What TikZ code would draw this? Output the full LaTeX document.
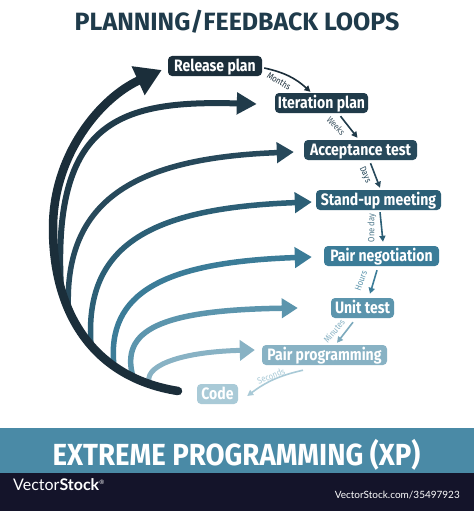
\documentclass[tikz,border=0pt]{standalone}
\usepackage{fontspec}
\setmainfont{Fira Sans}
\newfontfamily\condfont[FakeStretch=0.85]{Fira Sans}
\newfontfamily\titlefont{Fira Sans}
\newfontfamily\bannerfont[FakeStretch=0.905]{Fira Sans}
\newfontfamily\wmfont{Lato}
\usetikzlibrary{arrows.meta,calc}
\definecolor{c1}{HTML}{1B2E3A}
\definecolor{c2}{HTML}{203B4A}
\definecolor{c3}{HTML}{27495B}
\definecolor{c4}{HTML}{2C5F76}
\definecolor{c5}{HTML}{3B7C98}
\definecolor{c6}{HTML}{5C95AD}
\definecolor{c7}{HTML}{88B2C4}
\definecolor{c8}{HTML}{A9CAD7}
\definecolor{titlec}{HTML}{1F3B4B}
\definecolor{band}{HTML}{4A8AA6}
\definecolor{navy}{HTML}{14142A}
\tikzset{
  stage/.style={rounded corners=4pt, text=white, font=\condfont\bfseries\fontsize{16.5}{19}\selectfont,
    minimum height=20pt, inner xsep=1pt, inner ysep=0pt, text height=11.3pt, text depth=0pt},
  link/.style={line width=1.6pt, -{Triangle[length=6pt,width=6pt]}},
  lbl/.style={font=\condfont\fontsize{9}{11}\selectfont, inner sep=0pt},
  loop/.style={line width=5.5pt, -{Triangle[length=17pt,width=20pt]}}
}
\begin{document}
\begin{tikzpicture}[x=1pt,y=-1pt]
\useasboundingbox (0,0) rectangle (474,511);
\fill[white] (0,0) rectangle (474,511);
\fill[band] (0,428) rectangle (474,473);
\fill[navy] (0,473) rectangle (474,511);

\node[anchor=base, text=titlec, font=\titlefont\bfseries\fontsize{25}{28}\selectfont, inner sep=0pt] (title) at (237,31) {PLANNING/FEEDBACK LOOPS};
\node[anchor=base, text=white, font=\bannerfont\bfseries\fontsize{30.5}{34}\selectfont, inner sep=0pt] (banner) at (236.5,465) {EXTREME PROGRAMMING (XP)};
\node[anchor=base west, text=white, font=\wmfont\fontsize{16}{18}\selectfont, inner sep=0pt] (vs) at (13,490) {Vector\textbf{Stock}\raisebox{6pt}{\fontsize{6}{7}\selectfont ®}};
\node[anchor=base east, text=white, font=\wmfont\fontsize{10}{12}\selectfont, inner sep=0pt] (url) at (460,498) {VectorStock.com/35497923};

\node[stage, fill=c1, minimum width=94pt] (rel) at (215,66) {Release plan};
\node[stage, fill=c2, minimum width=93pt] (it) at (321.5,103) {Iteration plan};
\node[stage, fill=c3, minimum width=113pt] (acc) at (360.5,150) {Acceptance test};
\node[stage, fill=c4, minimum width=125pt] (std) at (378.5,200) {Stand-up meeting};
\node[stage, fill=c5, minimum width=115pt] (pn) at (381.5,256) {Pair negotiation};
\node[stage, fill=c6, minimum width=63pt] (ut) at (362.5,308) {Unit test};
\node[stage, fill=c7, minimum width=125pt] (pp) at (324.5,355) {Pair programming};
\node[stage, fill=c8, minimum width=41pt] (code) at (217.5,394) {Code};

% loops
\coordinate (s1) at (178,391);
\coordinate (s2) at (61,288);
\coordinate (s3) at (68.4,309.4);
\coordinate (s4) at (91,345);
\coordinate (s5) at (114,366);
\coordinate (s6) at (133,377);
\coordinate (s7) at (150,384);
\draw[loop, c7, line width=5pt, -{Triangle[length=15pt,width=20pt]}] (s7) .. controls (142,368) and (175,352) .. ([xshift=-7pt,yshift=5pt]pp.west);
\draw[loop, c6, -{Triangle[length=16pt,width=19pt]}] (s6) .. controls (120,330) and (160,310) .. ([xshift=-33pt]ut.west);
\draw[loop, c5] (s5) .. controls (106,292) and (165,262) .. ([xshift=-12pt,yshift=-1pt]pn.west);
\draw[loop, c4] (s4) .. controls (84,245) and (150,208) .. ([xshift=-4pt,yshift=-2pt]std.west);
\draw[loop, c3] (s3) .. controls (64,200) and (135,158) .. ([xshift=-10pt,yshift=-2pt]acc.west);
\draw[loop, c2, line width=6pt, -{Triangle[length=20pt,width=21pt]}] (s2) .. controls (52,120) and (120,100) .. ([xshift=-18pt,yshift=-1pt]it.west);
\draw[c1, line width=8.5pt, line cap=round, -{Triangle[length=26pt,width=30pt]}] (s1) .. controls (95,378) and (53,315) .. (53,228) .. controls (53,155) and (100,98) .. ([xshift=-6pt,yshift=-4pt]rel.west);

% links
\draw[link, c1] ([xshift=2pt,yshift=-2pt]rel.east) to[bend left=15] ([xshift=-11pt,yshift=1pt]it.north);
\draw[link, c2] ([xshift=19pt,yshift=-3pt]it.south) -- ([xshift=-3pt,yshift=2pt]acc.north);
\draw[link, c3] ([xshift=10pt,yshift=-3pt]acc.south) -- ([xshift=1.5pt,yshift=2pt]std.north);
\draw[link, c4] ([xshift=1.5pt,yshift=-2pt]std.south) -- ([xshift=1.5pt,yshift=4pt]pn.north);
\draw[link, c5] ([xshift=-4.5pt,yshift=-4pt]pn.south) -- ([xshift=7.5pt,yshift=4pt]ut.north);
\draw[link, c6!80!white] ([xshift=-9.5pt,yshift=-4pt]ut.south) -- ([xshift=12.5pt,yshift=2pt]pp.north);
\draw[link, c8] ([xshift=-21.5pt,yshift=-5pt]pp.south) to[bend right=12] ([xshift=9pt,yshift=-2pt]code.east);

\node[lbl, text=c1, rotate=-31] (lmonths) at (279,81) {Months};
\node[lbl, text=c2!85!white, rotate=-48] (lweeks) at (336,126) {Weeks};
\node[lbl, text=c3, rotate=-65] (ldays) at (365,175) {Days};
\node[lbl, text=c4!85!white, rotate=90] (lday) at (372,228) {One day};
\node[lbl, text=c6, rotate=70] (lhours) at (361,281) {Hours};
\node[lbl, text=c7, rotate=50] (lmin) at (334,331) {Minutes};
\node[lbl, text=c8, rotate=22] (lsec) at (271,376) {Seconds};
\end{tikzpicture}
\end{document}
